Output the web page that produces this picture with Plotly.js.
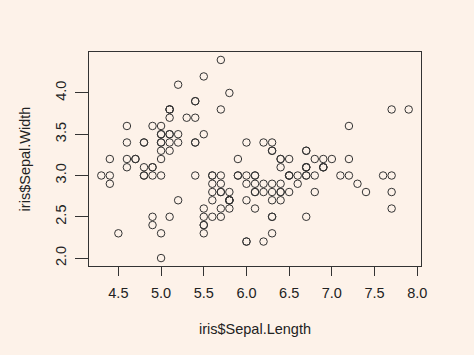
<!DOCTYPE html>
<html>
<head>
<meta charset="utf-8">
<script src="https://cdn.plot.ly/plotly-3.0.1.min.js"></script>
<style>
html,body{margin:0;padding:0;background:#fdf2e9;}
#chart{width:474px;height:355px;}
</style>
</head>
<body>
<div id="chart"></div>
<script>
var sepalLength = [5.1,4.9,4.7,4.6,5.0,5.4,4.6,5.0,4.4,4.9,5.4,4.8,4.8,4.3,5.8,5.7,5.4,5.1,5.7,5.1,
  5.4,5.1,4.6,5.1,4.8,5.0,5.0,5.2,5.2,4.7,4.8,5.4,5.2,5.5,4.9,5.0,5.5,4.9,4.4,5.1,
  5.0,4.5,4.4,5.0,5.1,4.8,5.1,4.6,5.3,5.0,7.0,6.4,6.9,5.5,6.5,5.7,6.3,4.9,6.6,5.2,
  5.0,5.9,6.0,6.1,5.6,6.7,5.6,5.8,6.2,5.6,5.9,6.1,6.3,6.1,6.4,6.6,6.8,6.7,6.0,5.7,
  5.5,5.5,5.8,6.0,5.4,6.0,6.7,6.3,5.6,5.5,5.5,6.1,5.8,5.0,5.6,5.7,5.7,6.2,5.1,5.7,
  6.3,5.8,7.1,6.3,6.5,7.6,4.9,7.3,6.7,7.2,6.5,6.4,6.8,5.7,5.8,6.4,6.5,7.7,7.7,6.0,
  6.9,5.6,7.7,6.3,6.7,7.2,6.2,6.1,6.4,7.2,7.4,7.9,6.4,6.3,6.1,7.7,6.3,6.4,6.0,6.9,
  6.7,6.9,5.8,6.8,6.7,6.7,6.3,6.5,6.2,5.9];
var sepalWidth = [3.5,3.0,3.2,3.1,3.6,3.9,3.4,3.4,2.9,3.1,3.7,3.4,3.0,3.0,4.0,4.4,3.9,3.5,3.8,3.8,
  3.4,3.7,3.6,3.3,3.4,3.0,3.4,3.5,3.4,3.2,3.1,3.4,4.1,4.2,3.1,3.2,3.5,3.6,3.0,3.4,
  3.5,2.3,3.2,3.5,3.8,3.0,3.8,3.2,3.7,3.3,3.2,3.2,3.1,2.3,2.8,2.8,3.3,2.4,2.9,2.7,
  2.0,3.0,2.2,2.9,2.9,3.1,3.0,2.7,2.2,2.5,3.2,2.8,2.5,2.8,2.9,3.0,2.8,3.0,2.9,2.6,
  2.4,2.4,2.7,2.7,3.0,3.4,3.1,2.3,3.0,2.5,2.6,3.0,2.6,2.3,2.7,3.0,2.9,2.9,2.5,2.8,
  3.3,2.7,3.0,2.9,3.0,3.0,2.5,2.9,2.5,3.6,3.2,2.7,3.0,2.5,2.8,3.2,3.0,3.8,2.6,2.2,
  3.2,2.8,2.8,2.7,3.3,3.2,2.8,3.0,2.8,3.0,2.8,3.8,2.8,2.8,2.6,3.0,3.4,3.1,3.0,3.1,
  3.1,3.1,2.7,3.2,3.3,3.0,2.5,3.0,3.4,3.0];
var xTicks = [4.5,5.0,5.5,6.0,6.5,7.0,7.5,8.0];
var yTicks = [2.0,2.5,3.0,3.5,4.0];
var xTitle = 'iris$Sepal.Length';
var yTitle = 'iris$Sepal.Width';

var bg = '#fdf2e9';
var ink = '#333333';
var font = {family: 'Liberation Sans, Arial, sans-serif', size: 14.5, color: '#222222'};

var trace = {
  x: sepalLength, y: sepalWidth, type: 'scatter', mode: 'markers',
  marker: {symbol: 'circle-open', size: 7.5, color: ink, line: {width: 1, color: ink}},
  hoverinfo: 'x+y'
};

var layout = {
  width: 474, height: 355,
  paper_bgcolor: bg, plot_bgcolor: bg,
  margin: {l: 89, r: 53, t: 52, b: 89, pad: 0},
  showlegend: false,
  font: font,
  xaxis: {
    range: [4.156, 8.044], tickvals: xTicks, ticktext: xTicks.map(function(v){return v.toFixed(1);}),
    ticks: 'outside', ticklen: 9, tickwidth: 1, tickcolor: ink, ticklabelstandoff: 5,
    showline: true, linecolor: ink, linewidth: 1, mirror: true,
    showgrid: false, zeroline: false, tickfont: font,
    title: {text: xTitle, font: font, standoff: 23}
  },
  yaxis: {
    range: [1.904, 4.496], tickvals: yTicks, ticktext: yTicks.map(function(v){return v.toFixed(1);}),
    ticks: 'outside', ticklen: 13, tickwidth: 1, tickcolor: ink, tickangle: -90, ticklabelstandoff: 3,
    showline: true, linecolor: ink, linewidth: 1, mirror: true,
    showgrid: false, zeroline: false, tickfont: font,
    title: {text: yTitle, font: font, standoff: 19}
  }
};
Plotly.newPlot('chart', [trace], layout, {displayModeBar: false, staticPlot: true});
</script>
</body>
</html>
